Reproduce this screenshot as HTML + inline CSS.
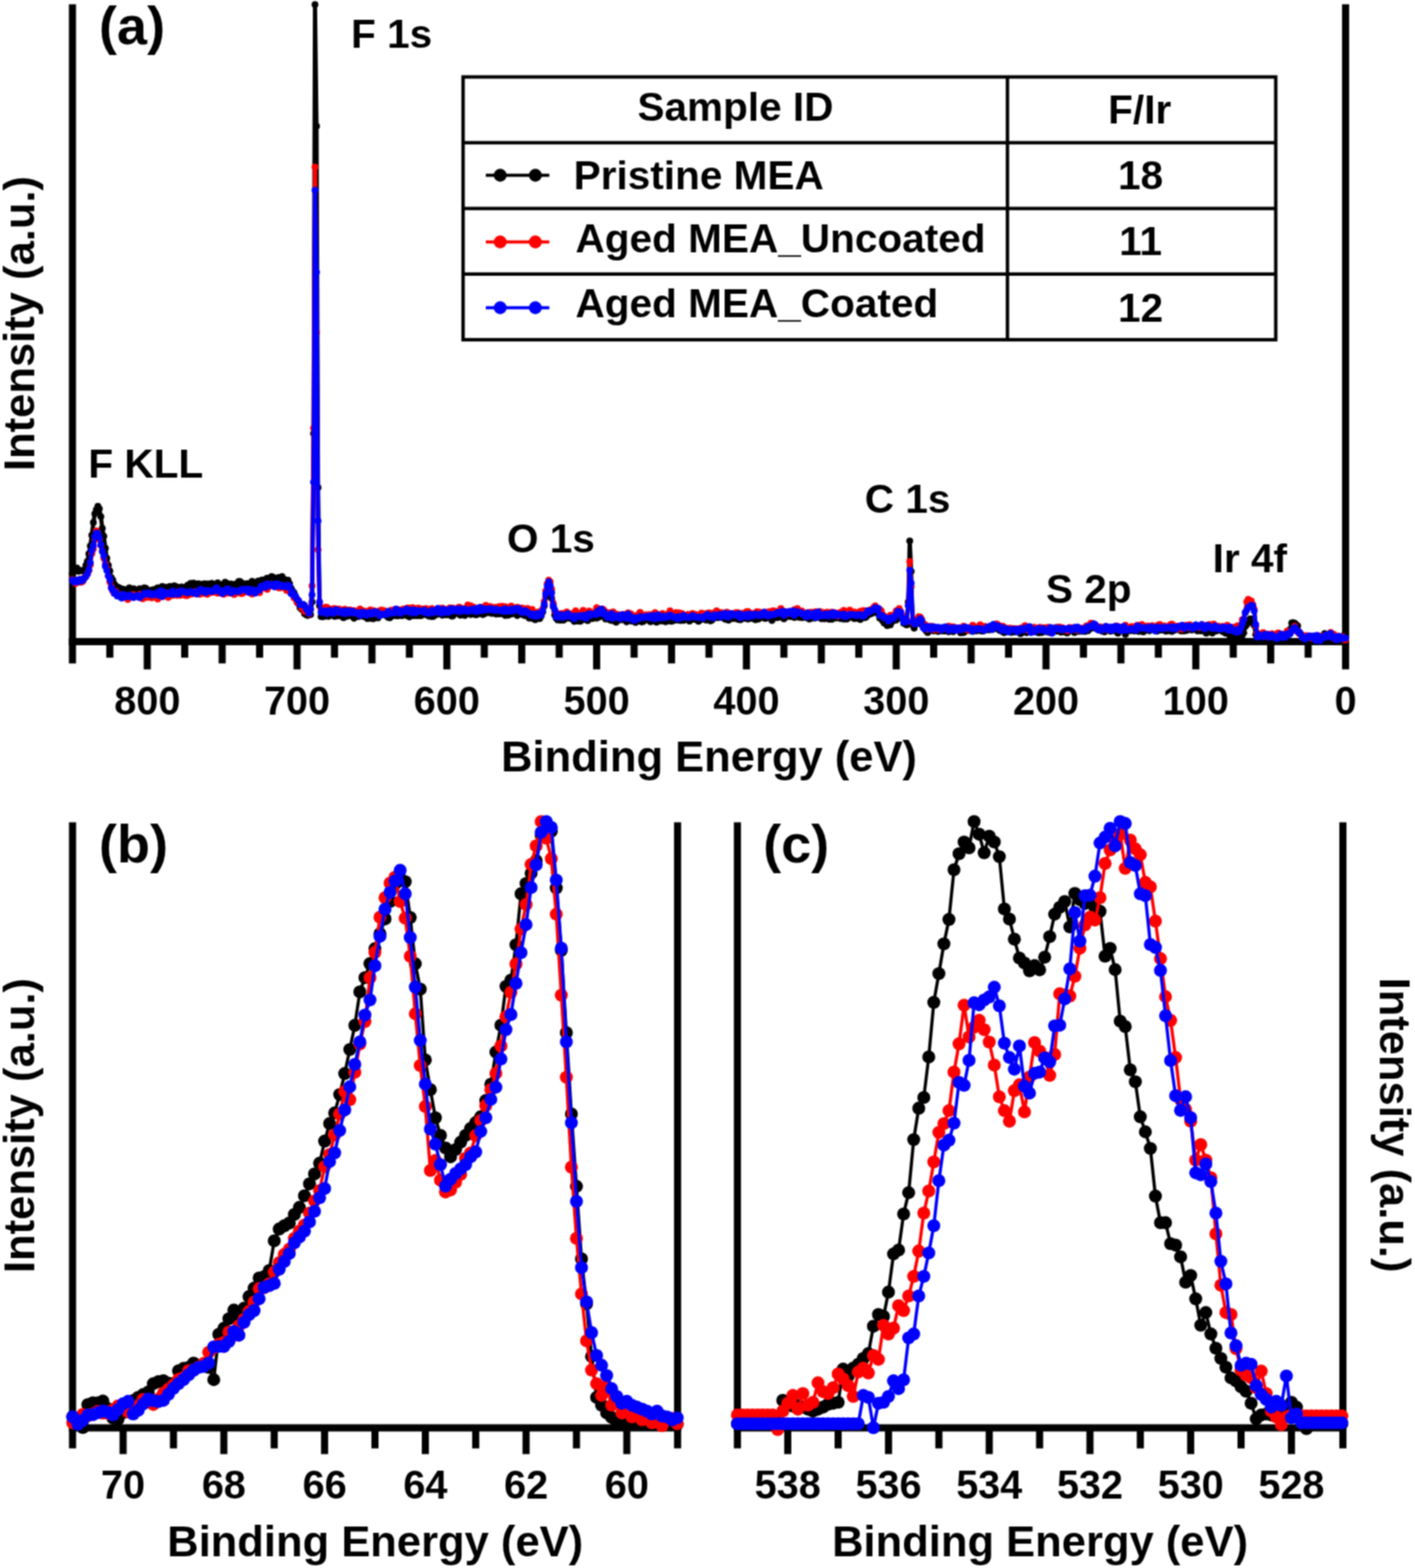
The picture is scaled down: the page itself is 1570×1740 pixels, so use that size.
<!DOCTYPE html>
<html lang="en">
<head>
<meta charset="utf-8">
<title>XPS spectra</title>
<style>html,body{margin:0;padding:0;background:#fff;}body{width:1570px;height:1740px;overflow:hidden;}svg{display:block;}</style>
</head>
<body>
<svg width="1570" height="1740" viewBox="0 0 1570 1740" font-family='"Liberation Sans", sans-serif' font-weight="bold" fill="#000">
<defs><filter id="soft" x="0" y="0" width="1570" height="1740" filterUnits="userSpaceOnUse" color-interpolation-filters="sRGB"><feConvolveMatrix order="3" kernelMatrix="1 2 1 2 4 2 1 2 1" divisor="16" edgeMode="duplicate" preserveAlpha="true"/></filter></defs>
<g filter="url(#soft)">
<rect width="1570" height="1740" fill="#fff"/>
<g id="axes" stroke-linecap="butt">
<line x1="80.40" y1="4.80" x2="80.40" y2="736.20" stroke="#000" stroke-width="7.9"/>
<line x1="1493.00" y1="4.80" x2="1493.00" y2="742.80" stroke="#000" stroke-width="7.9"/>
<line x1="76.45" y1="712.00" x2="1496.95" y2="712.00" stroke="#000" stroke-width="7.9"/>
<line x1="1451.45" y1="712.00" x2="1451.45" y2="729.80" stroke="#000" stroke-width="7.9"/>
<line x1="1409.90" y1="712.00" x2="1409.90" y2="736.20" stroke="#000" stroke-width="7.9"/>
<line x1="1368.35" y1="712.00" x2="1368.35" y2="729.80" stroke="#000" stroke-width="7.9"/>
<line x1="1326.80" y1="712.00" x2="1326.80" y2="742.80" stroke="#000" stroke-width="7.9"/>
<line x1="1285.25" y1="712.00" x2="1285.25" y2="729.80" stroke="#000" stroke-width="7.9"/>
<line x1="1243.70" y1="712.00" x2="1243.70" y2="736.20" stroke="#000" stroke-width="7.9"/>
<line x1="1202.15" y1="712.00" x2="1202.15" y2="729.80" stroke="#000" stroke-width="7.9"/>
<line x1="1160.60" y1="712.00" x2="1160.60" y2="742.80" stroke="#000" stroke-width="7.9"/>
<line x1="1119.05" y1="712.00" x2="1119.05" y2="729.80" stroke="#000" stroke-width="7.9"/>
<line x1="1077.50" y1="712.00" x2="1077.50" y2="736.20" stroke="#000" stroke-width="7.9"/>
<line x1="1035.95" y1="712.00" x2="1035.95" y2="729.80" stroke="#000" stroke-width="7.9"/>
<line x1="994.40" y1="712.00" x2="994.40" y2="742.80" stroke="#000" stroke-width="7.9"/>
<line x1="952.85" y1="712.00" x2="952.85" y2="729.80" stroke="#000" stroke-width="7.9"/>
<line x1="911.30" y1="712.00" x2="911.30" y2="736.20" stroke="#000" stroke-width="7.9"/>
<line x1="869.75" y1="712.00" x2="869.75" y2="729.80" stroke="#000" stroke-width="7.9"/>
<line x1="828.20" y1="712.00" x2="828.20" y2="742.80" stroke="#000" stroke-width="7.9"/>
<line x1="786.65" y1="712.00" x2="786.65" y2="729.80" stroke="#000" stroke-width="7.9"/>
<line x1="745.10" y1="712.00" x2="745.10" y2="736.20" stroke="#000" stroke-width="7.9"/>
<line x1="703.55" y1="712.00" x2="703.55" y2="729.80" stroke="#000" stroke-width="7.9"/>
<line x1="662.00" y1="712.00" x2="662.00" y2="742.80" stroke="#000" stroke-width="7.9"/>
<line x1="620.45" y1="712.00" x2="620.45" y2="729.80" stroke="#000" stroke-width="7.9"/>
<line x1="578.90" y1="712.00" x2="578.90" y2="736.20" stroke="#000" stroke-width="7.9"/>
<line x1="537.35" y1="712.00" x2="537.35" y2="729.80" stroke="#000" stroke-width="7.9"/>
<line x1="495.80" y1="712.00" x2="495.80" y2="742.80" stroke="#000" stroke-width="7.9"/>
<line x1="454.25" y1="712.00" x2="454.25" y2="729.80" stroke="#000" stroke-width="7.9"/>
<line x1="412.70" y1="712.00" x2="412.70" y2="736.20" stroke="#000" stroke-width="7.9"/>
<line x1="371.15" y1="712.00" x2="371.15" y2="729.80" stroke="#000" stroke-width="7.9"/>
<line x1="329.60" y1="712.00" x2="329.60" y2="742.80" stroke="#000" stroke-width="7.9"/>
<line x1="288.05" y1="712.00" x2="288.05" y2="729.80" stroke="#000" stroke-width="7.9"/>
<line x1="246.50" y1="712.00" x2="246.50" y2="736.20" stroke="#000" stroke-width="7.9"/>
<line x1="204.95" y1="712.00" x2="204.95" y2="729.80" stroke="#000" stroke-width="7.9"/>
<line x1="163.40" y1="712.00" x2="163.40" y2="742.80" stroke="#000" stroke-width="7.9"/>
<line x1="121.85" y1="712.00" x2="121.85" y2="729.80" stroke="#000" stroke-width="7.9"/>
<line x1="80.50" y1="912.50" x2="80.50" y2="1607.30" stroke="#000" stroke-width="7.9"/>
<line x1="751.80" y1="912.50" x2="751.80" y2="1607.30" stroke="#000" stroke-width="7.9"/>
<line x1="76.55" y1="1584.50" x2="755.75" y2="1584.50" stroke="#000" stroke-width="7.9"/>
<line x1="695.49" y1="1584.50" x2="695.49" y2="1613.60" stroke="#000" stroke-width="7.9"/>
<line x1="639.60" y1="1584.50" x2="639.60" y2="1607.30" stroke="#000" stroke-width="7.9"/>
<line x1="583.71" y1="1584.50" x2="583.71" y2="1613.60" stroke="#000" stroke-width="7.9"/>
<line x1="527.82" y1="1584.50" x2="527.82" y2="1607.30" stroke="#000" stroke-width="7.9"/>
<line x1="471.93" y1="1584.50" x2="471.93" y2="1613.60" stroke="#000" stroke-width="7.9"/>
<line x1="416.04" y1="1584.50" x2="416.04" y2="1607.30" stroke="#000" stroke-width="7.9"/>
<line x1="360.15" y1="1584.50" x2="360.15" y2="1613.60" stroke="#000" stroke-width="7.9"/>
<line x1="304.26" y1="1584.50" x2="304.26" y2="1607.30" stroke="#000" stroke-width="7.9"/>
<line x1="248.37" y1="1584.50" x2="248.37" y2="1613.60" stroke="#000" stroke-width="7.9"/>
<line x1="192.48" y1="1584.50" x2="192.48" y2="1607.30" stroke="#000" stroke-width="7.9"/>
<line x1="136.59" y1="1584.50" x2="136.59" y2="1613.60" stroke="#000" stroke-width="7.9"/>
<line x1="818.20" y1="912.50" x2="818.20" y2="1607.30" stroke="#000" stroke-width="7.9"/>
<line x1="1490.00" y1="912.50" x2="1490.00" y2="1607.30" stroke="#000" stroke-width="7.9"/>
<line x1="814.25" y1="1584.50" x2="1493.95" y2="1584.50" stroke="#000" stroke-width="7.9"/>
<line x1="1432.88" y1="1584.50" x2="1432.88" y2="1613.60" stroke="#000" stroke-width="7.9"/>
<line x1="1377.00" y1="1584.50" x2="1377.00" y2="1607.30" stroke="#000" stroke-width="7.9"/>
<line x1="1321.12" y1="1584.50" x2="1321.12" y2="1613.60" stroke="#000" stroke-width="7.9"/>
<line x1="1265.24" y1="1584.50" x2="1265.24" y2="1607.30" stroke="#000" stroke-width="7.9"/>
<line x1="1209.36" y1="1584.50" x2="1209.36" y2="1613.60" stroke="#000" stroke-width="7.9"/>
<line x1="1153.48" y1="1584.50" x2="1153.48" y2="1607.30" stroke="#000" stroke-width="7.9"/>
<line x1="1097.60" y1="1584.50" x2="1097.60" y2="1613.60" stroke="#000" stroke-width="7.9"/>
<line x1="1041.72" y1="1584.50" x2="1041.72" y2="1607.30" stroke="#000" stroke-width="7.9"/>
<line x1="985.84" y1="1584.50" x2="985.84" y2="1613.60" stroke="#000" stroke-width="7.9"/>
<line x1="929.96" y1="1584.50" x2="929.96" y2="1607.30" stroke="#000" stroke-width="7.9"/>
<line x1="874.08" y1="1584.50" x2="874.08" y2="1613.60" stroke="#000" stroke-width="7.9"/>
</g>
<defs>
<marker id="mLk" markerUnits="userSpaceOnUse" markerWidth="16.4" markerHeight="16.4" refX="8.2" refY="8.2" overflow="visible"><circle cx="8.2" cy="8.2" r="7.2" fill="#000000"/></marker>
<marker id="mSk" markerUnits="userSpaceOnUse" markerWidth="9.6" markerHeight="9.6" refX="4.8" refY="4.8" overflow="visible"><circle cx="4.8" cy="4.8" r="3.8" fill="#000000"/></marker>
<marker id="mLr" markerUnits="userSpaceOnUse" markerWidth="16.4" markerHeight="16.4" refX="8.2" refY="8.2" overflow="visible"><circle cx="8.2" cy="8.2" r="7.2" fill="#ff0000"/></marker>
<marker id="mSr" markerUnits="userSpaceOnUse" markerWidth="9.6" markerHeight="9.6" refX="4.8" refY="4.8" overflow="visible"><circle cx="4.8" cy="4.8" r="3.8" fill="#ff0000"/></marker>
<marker id="mLb" markerUnits="userSpaceOnUse" markerWidth="16.4" markerHeight="16.4" refX="8.2" refY="8.2" overflow="visible"><circle cx="8.2" cy="8.2" r="7.2" fill="#0000ff"/></marker>
<marker id="mSb" markerUnits="userSpaceOnUse" markerWidth="9.6" markerHeight="9.6" refX="4.8" refY="4.8" overflow="visible"><circle cx="4.8" cy="4.8" r="3.8" fill="#0000ff"/></marker>
</defs>
<g id="panel-a-data">
<polyline points="80.3,636.4 82.0,633.6 83.6,633.3 85.3,630.3 86.9,634.0 88.6,633.6 90.3,633.1 91.9,633.5 93.6,632.8 95.3,627.2 96.9,623.0 98.6,614.5 100.2,605.8 101.9,593.9 103.6,579.8 105.2,570.1 106.9,565.5 108.6,561.7 110.2,564.5 111.9,573.3 113.5,586.2 115.2,595.0 116.9,608.4 118.5,619.6 120.2,627.2 121.9,633.5 123.5,641.1 125.2,643.7 126.8,648.1 128.5,650.4 130.2,651.7 131.8,652.1 133.5,653.3 135.1,653.5 136.8,654.3 138.5,654.3 140.1,654.8 141.8,656.4 143.5,652.4 145.1,656.5 146.8,654.5 148.4,653.2 150.1,654.8 151.8,655.2 153.4,656.4 155.1,653.4 156.8,655.1 158.4,654.9 160.1,652.3 161.7,652.9 163.4,655.3 165.1,655.4 166.7,655.8 168.4,654.9 170.0,654.5 171.7,654.0 173.4,655.3 175.0,652.3 176.7,653.1 178.4,653.7 180.0,650.8 181.7,654.6 183.3,651.5 185.0,652.3 186.7,655.3 188.3,650.9 190.0,651.2 191.7,653.9 193.3,650.1 195.0,650.8 196.6,652.0 198.3,651.8 200.0,651.8 201.6,651.3 203.3,652.5 205.0,651.9 206.6,651.2 208.3,649.2 209.9,649.0 211.6,647.2 213.3,650.7 214.9,647.1 216.6,650.8 218.2,652.0 219.9,647.8 221.6,648.3 223.2,648.5 224.9,650.2 226.6,647.7 228.2,648.6 229.9,648.0 231.5,648.2 233.2,650.4 234.9,647.2 236.5,648.6 238.2,648.9 239.9,649.7 241.5,646.7 243.2,650.0 244.8,649.0 246.5,649.6 248.2,648.4 249.8,646.0 251.5,647.4 253.1,649.4 254.8,648.3 256.5,648.1 258.1,650.7 259.8,651.2 261.5,648.1 263.1,650.8 264.8,645.3 266.4,645.2 268.1,649.2 269.8,647.6 271.4,648.7 273.1,648.5 274.8,647.5 276.4,648.5 278.1,647.6 279.7,645.1 281.4,647.4 283.1,647.3 284.7,649.4 286.4,644.8 288.0,645.5 289.7,644.0 291.4,643.6 293.0,645.2 294.7,643.1 296.4,641.5 298.0,642.1 299.7,642.6 301.3,639.8 303.0,640.6 304.7,643.3 306.3,642.5 308.0,641.4 309.7,640.9 311.3,641.6 313.0,639.9 314.6,643.8 316.3,643.4 318.0,644.5 319.6,643.9 321.3,647.7 323.0,652.7 324.6,655.7 326.3,657.9 327.9,663.5 329.6,668.2 331.3,670.0 332.9,674.3 334.6,675.9 336.2,677.0 337.9,681.0 339.6,681.9 341.2,682.9 342.9,681.9 344.6,682.0 346.2,668.0 347.9,481.0 349.5,5.1 351.2,140.0 352.9,541.0 354.5,672.0 356.2,684.3 357.9,684.5 359.5,682.5 361.2,683.7 362.8,682.0 364.5,683.9 366.2,682.2 367.8,682.1 369.5,682.0 371.2,683.9 372.8,683.4 374.5,683.4 376.1,681.6 377.8,683.5 379.5,681.3 381.1,685.5 382.8,683.3 384.4,683.9 386.1,683.5 387.8,681.6 389.4,681.9 391.1,683.9 392.8,686.1 394.4,682.5 396.1,683.2 397.7,684.2 399.4,681.9 401.1,681.9 402.7,683.7 404.4,684.2 406.1,683.7 407.7,686.4 409.4,684.0 411.0,684.8 412.7,686.5 414.4,686.6 416.0,682.0 417.7,683.7 419.3,685.7 421.0,682.1 422.7,682.6 424.3,682.0 426.0,681.9 427.7,682.1 429.3,683.8 431.0,685.3 432.6,685.6 434.3,683.4 436.0,680.5 437.6,683.1 439.3,682.6 441.0,683.5 442.6,682.8 444.3,680.3 445.9,683.3 447.6,679.8 449.3,681.6 450.9,683.0 452.6,682.9 454.2,684.6 455.9,679.0 457.6,682.8 459.2,683.3 460.9,681.9 462.6,683.2 464.2,680.8 465.9,683.3 467.5,683.1 469.2,681.0 470.9,681.4 472.5,682.1 474.2,681.4 475.9,683.8 477.5,682.6 479.2,684.2 480.8,684.0 482.5,682.4 484.2,682.1 485.8,681.0 487.5,681.2 489.2,681.2 490.8,682.8 492.5,681.1 494.1,682.3 495.8,682.3 497.5,681.2 499.1,681.4 500.8,683.6 502.4,683.6 504.1,680.1 505.8,680.8 507.4,680.4 509.1,680.3 510.8,682.7 512.4,681.4 514.1,682.2 515.7,682.9 517.4,679.8 519.1,680.2 520.7,680.5 522.4,681.9 524.1,680.3 525.7,681.3 527.4,682.1 529.0,682.1 530.7,681.0 532.4,679.3 534.0,678.2 535.7,682.0 537.4,681.1 539.0,679.1 540.7,679.7 542.3,679.8 544.0,678.1 545.7,680.8 547.3,679.3 549.0,680.0 550.6,681.5 552.3,680.3 554.0,681.2 555.6,681.0 557.3,680.5 559.0,680.5 560.6,683.0 562.3,680.2 563.9,682.7 565.6,679.1 567.3,681.4 568.9,680.7 570.6,679.5 572.3,677.0 573.9,683.1 575.6,679.4 577.2,679.9 578.9,681.6 580.6,682.1 582.2,683.1 583.9,683.0 585.5,682.0 587.2,685.9 588.9,684.0 590.5,685.9 592.2,686.6 593.9,687.7 595.5,686.0 597.2,686.2 598.8,686.5 600.5,683.6 602.2,679.0 603.8,672.5 605.5,662.2 607.2,655.7 608.8,648.9 610.5,656.0 612.1,664.0 613.8,673.1 615.5,682.4 617.1,686.0 618.8,688.0 620.5,687.3 622.1,688.3 623.8,687.5 625.4,688.1 627.1,686.6 628.8,683.6 630.4,685.5 632.1,686.0 633.7,686.5 635.4,685.9 637.1,689.6 638.7,687.1 640.4,689.1 642.1,686.7 643.7,689.4 645.4,685.2 647.0,687.6 648.7,684.8 650.4,687.2 652.0,688.7 653.7,684.0 655.4,685.0 657.0,686.4 658.7,685.5 660.3,683.1 662.0,685.9 663.7,683.6 665.3,684.6 667.0,682.7 668.6,681.5 670.3,683.4 672.0,686.9 673.6,684.0 675.3,686.2 677.0,687.9 678.6,688.6 680.3,688.4 681.9,685.3 683.6,690.4 685.3,687.4 686.9,687.7 688.6,687.8 690.3,687.6 691.9,686.7 693.6,687.7 695.2,690.1 696.9,686.5 698.6,685.0 700.2,689.1 701.9,688.8 703.6,689.4 705.2,690.8 706.9,687.3 708.5,688.6 710.2,689.0 711.9,690.1 713.5,689.8 715.2,687.2 716.8,686.4 718.5,687.9 720.2,686.1 721.8,689.9 723.5,687.8 725.2,687.8 726.8,687.1 728.5,690.4 730.1,688.7 731.8,687.7 733.5,689.1 735.1,688.1 736.8,689.0 738.5,690.0 740.1,687.7 741.8,688.8 743.4,688.7 745.1,689.5 746.8,688.7 748.4,687.9 750.1,686.9 751.7,688.1 753.4,686.2 755.1,688.6 756.7,687.7 758.4,688.4 760.1,686.9 761.7,686.5 763.4,686.4 765.0,689.2 766.7,687.3 768.4,687.3 770.0,685.1 771.7,687.5 773.4,682.7 775.0,689.4 776.7,687.1 778.3,687.5 780.0,685.4 781.7,685.8 783.3,688.1 785.0,686.9 786.6,687.8 788.3,688.9 790.0,688.0 791.6,684.3 793.3,685.6 795.0,685.3 796.6,685.5 798.3,683.8 799.9,683.8 801.6,685.5 803.3,685.7 804.9,687.2 806.6,685.9 808.3,688.3 809.9,683.7 811.6,684.2 813.2,686.5 814.9,685.7 816.6,684.6 818.2,687.0 819.9,687.4 821.6,687.7 823.2,685.2 824.9,685.7 826.5,686.0 828.2,685.7 829.9,687.0 831.5,684.9 833.2,686.1 834.8,682.5 836.5,686.6 838.2,687.8 839.8,685.5 841.5,687.0 843.2,683.2 844.8,685.1 846.5,683.4 848.1,686.0 849.8,686.3 851.5,683.5 853.1,684.2 854.8,684.5 856.5,688.6 858.1,685.0 859.8,685.2 861.4,685.5 863.1,685.3 864.8,684.4 866.4,682.8 868.1,683.7 869.8,686.8 871.4,684.8 873.1,683.8 874.7,682.4 876.4,684.1 878.1,684.2 879.7,683.1 881.4,685.2 883.0,683.0 884.7,683.5 886.4,684.9 888.0,684.0 889.7,685.5 891.4,683.9 893.0,683.9 894.7,685.4 896.3,685.3 898.0,686.9 899.7,686.1 901.3,685.3 903.0,685.8 904.7,685.8 906.3,683.1 908.0,684.5 909.6,684.4 911.3,686.6 913.0,684.4 914.6,686.7 916.3,683.6 917.9,685.4 919.6,687.1 921.3,685.2 922.9,687.2 924.6,682.7 926.3,685.6 927.9,685.8 929.6,685.4 931.2,683.4 932.9,686.5 934.6,682.3 936.2,686.9 937.9,686.0 939.6,686.9 941.2,685.2 942.9,684.0 944.5,684.8 946.2,684.9 947.9,686.4 949.5,685.1 951.2,686.1 952.9,686.2 954.5,687.5 956.2,682.8 957.8,684.7 959.5,685.4 961.2,684.6 962.8,682.1 964.5,681.7 966.1,681.1 967.8,680.5 969.5,678.6 971.1,677.6 972.8,678.1 974.5,681.3 976.1,686.0 977.8,684.9 979.4,689.0 981.1,691.5 982.8,690.1 984.4,694.2 986.1,691.7 987.8,693.4 989.4,690.2 991.1,687.8 992.7,688.2 994.4,687.9 996.1,681.8 997.7,681.6 999.4,683.0 1001.0,686.5 1002.7,691.8 1004.4,692.1 1006.0,693.4 1007.7,668.0 1009.4,600.2 1011.0,634.0 1012.7,693.7 1014.3,697.1 1016.0,692.3 1017.7,690.6 1019.3,690.9 1021.0,692.3 1022.7,689.9 1024.3,694.3 1026.0,697.9 1027.6,699.9 1029.3,702.0 1031.0,697.4 1032.6,696.9 1034.3,699.6 1036.0,700.1 1037.6,696.2 1039.3,698.5 1040.9,700.7 1042.6,698.6 1044.3,700.0 1045.9,699.6 1047.6,700.3 1049.2,700.0 1050.9,699.7 1052.6,701.1 1054.2,698.6 1055.9,699.5 1057.6,701.0 1059.2,698.6 1060.9,698.9 1062.5,698.3 1064.2,698.1 1065.9,702.2 1067.5,700.0 1069.2,702.0 1070.9,700.4 1072.5,699.5 1074.2,699.0 1075.8,699.8 1077.5,699.3 1079.2,700.7 1080.8,698.2 1082.5,699.6 1084.1,700.0 1085.8,699.1 1087.5,699.1 1089.1,700.2 1090.8,700.2 1092.5,699.0 1094.1,698.8 1095.8,697.7 1097.4,698.9 1099.1,697.6 1100.8,695.3 1102.4,696.7 1104.1,697.6 1105.8,697.1 1107.4,696.3 1109.1,699.4 1110.7,700.1 1112.4,700.8 1114.1,702.1 1115.7,699.5 1117.4,700.9 1119.0,699.7 1120.7,701.5 1122.4,701.8 1124.0,700.9 1125.7,701.3 1127.4,699.1 1129.0,701.2 1130.7,698.6 1132.3,703.3 1134.0,701.9 1135.7,698.1 1137.3,696.5 1139.0,702.1 1140.7,699.1 1142.3,701.0 1144.0,698.4 1145.6,700.3 1147.3,699.3 1149.0,701.1 1150.6,699.8 1152.3,702.3 1154.0,699.2 1155.6,702.0 1157.3,700.2 1158.9,701.0 1160.6,698.0 1162.3,697.8 1163.9,701.7 1165.6,698.5 1167.2,699.8 1168.9,699.8 1170.6,699.0 1172.2,700.5 1173.9,698.3 1175.6,698.6 1177.2,701.6 1178.9,699.2 1180.5,701.3 1182.2,701.2 1183.9,702.4 1185.5,700.9 1187.2,697.7 1188.9,699.3 1190.5,699.6 1192.2,701.9 1193.8,700.6 1195.5,699.4 1197.2,700.6 1198.8,699.5 1200.5,700.6 1202.2,699.8 1203.8,700.8 1205.5,699.4 1207.1,700.0 1208.8,697.5 1210.5,697.2 1212.1,694.7 1213.8,696.5 1215.4,697.1 1217.1,697.8 1218.8,698.6 1220.4,699.1 1222.1,700.1 1223.8,696.3 1225.4,701.2 1227.1,696.2 1228.7,699.2 1230.4,699.0 1232.1,700.5 1233.7,699.8 1235.4,699.5 1237.1,699.6 1238.7,700.8 1240.4,702.7 1242.0,700.0 1243.7,696.5 1245.4,698.7 1247.0,699.9 1248.7,703.9 1250.3,698.1 1252.0,698.6 1253.7,699.9 1255.3,699.5 1257.0,697.2 1258.7,700.3 1260.3,697.1 1262.0,698.6 1263.6,700.8 1265.3,697.0 1267.0,698.4 1268.6,701.2 1270.3,698.4 1272.0,697.3 1273.6,697.9 1275.3,699.9 1276.9,696.5 1278.6,697.8 1280.3,696.7 1281.9,697.1 1283.6,700.5 1285.2,698.6 1286.9,698.1 1288.6,699.3 1290.2,697.8 1291.9,697.1 1293.6,700.4 1295.2,700.0 1296.9,697.6 1298.5,699.7 1300.2,700.7 1301.9,699.4 1303.5,699.3 1305.2,696.9 1306.9,698.4 1308.5,695.9 1310.2,700.1 1311.8,698.3 1313.5,700.3 1315.2,697.4 1316.8,699.6 1318.5,696.1 1320.2,697.7 1321.8,699.0 1323.5,698.7 1325.1,698.1 1326.8,695.8 1328.5,700.1 1330.1,699.2 1331.8,699.9 1333.4,699.9 1335.1,698.0 1336.8,699.4 1338.4,702.8 1340.1,698.2 1341.8,700.2 1343.4,699.1 1345.1,702.6 1346.7,700.7 1348.4,699.2 1350.1,700.1 1351.7,699.2 1353.4,698.3 1355.1,697.9 1356.7,701.0 1358.4,700.7 1360.0,702.8 1361.7,701.7 1363.4,703.4 1365.0,705.9 1366.7,702.0 1368.3,702.2 1370.0,705.5 1371.7,707.7 1373.3,702.6 1375.0,702.8 1376.7,706.1 1378.3,705.1 1380.0,702.2 1381.6,695.3 1383.3,693.1 1385.0,689.3 1386.6,687.0 1388.3,686.7 1390.0,691.3 1391.6,694.1 1393.3,704.2 1394.9,711.0 1396.6,710.6 1398.3,709.7 1399.9,709.8 1401.6,709.2 1403.3,709.6 1404.9,709.6 1406.6,708.3 1408.2,705.2 1409.9,707.7 1411.6,706.5 1413.2,705.9 1414.9,708.2 1416.5,704.7 1418.2,708.2 1419.9,706.0 1421.5,705.0 1423.2,705.3 1424.9,709.7 1426.5,707.4 1428.2,701.8 1429.8,700.5 1431.5,698.4 1433.2,691.4 1434.8,691.0 1436.5,691.5 1438.2,693.2 1439.8,694.6 1441.5,701.2 1443.1,703.5 1444.8,707.4 1446.5,711.0 1448.1,708.6 1449.8,711.0 1451.5,708.4 1453.1,707.8 1454.8,708.2 1456.4,709.3 1458.1,709.1 1459.8,708.5 1461.4,705.7 1463.1,706.1 1464.7,707.1 1466.4,708.3 1468.1,709.1 1469.7,703.0 1471.4,705.7 1473.1,704.7 1474.7,704.6 1476.4,704.8 1478.0,704.2 1479.7,704.5 1481.4,708.8 1483.0,709.2 1484.7,707.5 1486.4,708.0 1488.0,707.1 1489.7,706.1 1491.3,709.1 1493.0,707.2" fill="none" stroke="#000000" stroke-width="4.6" stroke-linejoin="round" marker-start="url(#mSk)" marker-mid="url(#mSk)" marker-end="url(#mSk)"/>
<polyline points="80.3,643.0 82.0,644.0 83.6,647.6 85.3,646.2 86.9,645.7 88.6,645.3 90.3,646.1 91.9,644.9 93.6,640.9 95.3,640.1 96.9,636.7 98.6,633.3 100.2,626.8 101.9,614.3 103.6,609.1 105.2,599.1 106.9,589.0 108.6,595.8 110.2,597.7 111.9,605.3 113.5,611.7 115.2,619.4 116.9,625.9 118.5,630.8 120.2,638.7 121.9,645.8 123.5,651.1 125.2,656.1 126.8,658.2 128.5,656.0 130.2,661.1 131.8,659.7 133.5,659.8 135.1,661.8 136.8,660.4 138.5,662.9 140.1,661.2 141.8,665.3 143.5,662.3 145.1,661.9 146.8,661.9 148.4,659.8 150.1,661.7 151.8,661.9 153.4,662.4 155.1,659.6 156.8,662.7 158.4,664.4 160.1,661.9 161.7,662.4 163.4,663.0 165.1,661.1 166.7,661.6 168.4,663.4 170.0,662.1 171.7,660.0 173.4,659.0 175.0,664.7 176.7,661.9 178.4,658.8 180.0,661.1 181.7,661.7 183.3,660.8 185.0,657.8 186.7,662.9 188.3,661.0 190.0,659.7 191.7,660.8 193.3,659.4 195.0,659.1 196.6,660.7 198.3,656.5 200.0,660.6 201.6,659.6 203.3,660.0 205.0,660.1 206.6,660.9 208.3,660.6 209.9,659.7 211.6,657.7 213.3,659.1 214.9,657.4 216.6,656.6 218.2,658.6 219.9,658.3 221.6,659.4 223.2,654.6 224.9,658.4 226.6,658.5 228.2,657.6 229.9,659.5 231.5,656.0 233.2,657.7 234.9,656.7 236.5,657.2 238.2,655.9 239.9,657.1 241.5,658.2 243.2,657.4 244.8,657.7 246.5,656.2 248.2,659.5 249.8,656.3 251.5,657.3 253.1,658.1 254.8,657.0 256.5,658.3 258.1,657.5 259.8,659.7 261.5,658.0 263.1,657.8 264.8,656.1 266.4,657.9 268.1,658.7 269.8,657.9 271.4,655.9 273.1,656.3 274.8,656.6 276.4,656.9 278.1,654.8 279.7,659.3 281.4,656.4 283.1,656.6 284.7,655.7 286.4,655.8 288.0,657.7 289.7,652.8 291.4,652.6 293.0,651.0 294.7,651.4 296.4,654.0 298.0,650.6 299.7,650.5 301.3,648.3 303.0,650.1 304.7,651.1 306.3,650.2 308.0,650.5 309.7,652.4 311.3,652.2 313.0,651.5 314.6,651.0 316.3,650.4 318.0,655.3 319.6,651.2 321.3,656.3 323.0,657.4 324.6,658.9 326.3,663.5 327.9,663.4 329.6,668.3 331.3,667.1 332.9,671.4 334.6,674.5 336.2,672.9 337.9,678.4 339.6,677.9 341.2,674.8 342.9,681.1 344.6,676.0 346.2,650.0 347.9,475.0 349.5,185.3 351.2,369.0 352.9,610.0 354.5,668.0 356.2,675.4 357.9,677.9 359.5,679.5 361.2,673.7 362.8,674.0 364.5,675.6 366.2,677.6 367.8,677.3 369.5,675.6 371.2,675.4 372.8,676.0 374.5,679.5 376.1,675.9 377.8,676.5 379.5,678.7 381.1,677.1 382.8,676.1 384.4,679.6 386.1,678.2 387.8,676.8 389.4,677.3 391.1,679.3 392.8,677.5 394.4,678.5 396.1,679.5 397.7,679.7 399.4,675.7 401.1,677.6 402.7,677.8 404.4,678.4 406.1,679.4 407.7,679.9 409.4,677.7 411.0,676.7 412.7,678.6 414.4,677.5 416.0,680.7 417.7,678.8 419.3,678.2 421.0,679.5 422.7,677.1 424.3,677.4 426.0,677.6 427.7,678.7 429.3,679.5 431.0,678.7 432.6,678.6 434.3,677.1 436.0,677.9 437.6,676.9 439.3,678.8 441.0,676.2 442.6,676.9 444.3,677.3 445.9,678.0 447.6,675.7 449.3,676.4 450.9,675.4 452.6,674.6 454.2,678.0 455.9,677.1 457.6,674.3 459.2,675.0 460.9,677.2 462.6,675.6 464.2,674.9 465.9,678.2 467.5,675.7 469.2,675.9 470.9,677.2 472.5,675.4 474.2,676.4 475.9,676.6 477.5,677.4 479.2,675.4 480.8,677.9 482.5,676.9 484.2,678.9 485.8,676.7 487.5,675.6 489.2,675.6 490.8,674.8 492.5,676.4 494.1,676.2 495.8,677.3 497.5,676.0 499.1,674.6 500.8,677.0 502.4,674.8 504.1,675.6 505.8,677.1 507.4,676.7 509.1,673.7 510.8,674.4 512.4,676.3 514.1,675.8 515.7,675.2 517.4,675.7 519.1,671.4 520.7,674.0 522.4,672.4 524.1,673.5 525.7,673.9 527.4,675.1 529.0,676.1 530.7,675.5 532.4,674.8 534.0,673.9 535.7,676.2 537.4,674.8 539.0,671.9 540.7,674.3 542.3,675.1 544.0,673.0 545.7,674.7 547.3,676.5 549.0,674.0 550.6,674.3 552.3,674.3 554.0,673.0 555.6,673.7 557.3,672.9 559.0,673.9 560.6,673.2 562.3,675.7 563.9,674.2 565.6,675.5 567.3,672.5 568.9,674.3 570.6,675.3 572.3,675.6 573.9,673.9 575.6,674.8 577.2,675.3 578.9,674.8 580.6,675.4 582.2,677.4 583.9,675.6 585.5,675.4 587.2,677.9 588.9,679.6 590.5,676.2 592.2,681.6 593.9,680.1 595.5,681.1 597.2,679.1 598.8,680.2 600.5,681.9 602.2,675.6 603.8,667.5 605.5,655.8 607.2,647.5 608.8,643.7 610.5,645.7 612.1,653.8 613.8,669.2 615.5,677.5 617.1,679.9 618.8,681.7 620.5,681.5 622.1,681.2 623.8,680.8 625.4,682.3 627.1,681.8 628.8,679.0 630.4,683.4 632.1,681.8 633.7,681.7 635.4,680.7 637.1,680.9 638.7,677.8 640.4,680.9 642.1,682.0 643.7,681.9 645.4,679.9 647.0,677.4 648.7,679.1 650.4,680.1 652.0,682.2 653.7,678.0 655.4,680.2 657.0,680.9 658.7,680.7 660.3,678.9 662.0,674.4 663.7,678.4 665.3,677.0 667.0,677.0 668.6,675.9 670.3,677.4 672.0,681.2 673.6,679.8 675.3,680.9 677.0,680.1 678.6,683.0 680.3,679.0 681.9,680.7 683.6,682.2 685.3,681.7 686.9,683.1 688.6,682.6 690.3,684.1 691.9,681.9 693.6,682.1 695.2,682.9 696.9,680.0 698.6,684.6 700.2,681.3 701.9,684.2 703.6,684.6 705.2,684.0 706.9,682.9 708.5,681.7 710.2,679.6 711.9,683.4 713.5,682.3 715.2,685.0 716.8,682.2 718.5,683.5 720.2,682.0 721.8,683.2 723.5,682.1 725.2,682.4 726.8,679.9 728.5,681.6 730.1,682.4 731.8,684.4 733.5,683.0 735.1,680.8 736.8,684.8 738.5,683.0 740.1,684.0 741.8,681.1 743.4,677.7 745.1,681.2 746.8,680.8 748.4,682.6 750.1,679.9 751.7,680.8 753.4,680.1 755.1,682.2 756.7,680.7 758.4,684.0 760.1,683.2 761.7,683.2 763.4,681.7 765.0,682.4 766.7,683.3 768.4,680.8 770.0,683.8 771.7,681.9 773.4,683.8 775.0,685.2 776.7,684.2 778.3,680.4 780.0,683.6 781.7,681.3 783.3,681.1 785.0,681.4 786.6,680.0 788.3,681.9 790.0,680.5 791.6,683.1 793.3,681.9 795.0,677.7 796.6,679.9 798.3,679.8 799.9,680.2 801.6,680.1 803.3,681.3 804.9,680.7 806.6,679.3 808.3,681.4 809.9,682.0 811.6,680.7 813.2,682.3 814.9,681.2 816.6,679.8 818.2,679.9 819.9,680.5 821.6,681.2 823.2,680.6 824.9,681.7 826.5,681.9 828.2,678.8 829.9,678.5 831.5,680.0 833.2,680.8 834.8,681.4 836.5,681.1 838.2,681.0 839.8,678.8 841.5,680.7 843.2,679.2 844.8,680.7 846.5,681.4 848.1,679.2 849.8,679.8 851.5,683.5 853.1,678.9 854.8,679.2 856.5,678.2 858.1,677.7 859.8,681.0 861.4,678.6 863.1,678.6 864.8,678.2 866.4,675.3 868.1,680.3 869.8,678.3 871.4,679.0 873.1,680.9 874.7,678.7 876.4,679.0 878.1,678.9 879.7,680.4 881.4,676.6 883.0,677.7 884.7,675.3 886.4,678.3 888.0,679.2 889.7,678.0 891.4,681.7 893.0,680.5 894.7,682.1 896.3,679.8 898.0,682.4 899.7,679.4 901.3,680.6 903.0,679.9 904.7,678.9 906.3,681.6 908.0,681.2 909.6,678.5 911.3,680.6 913.0,679.9 914.6,680.1 916.3,680.9 917.9,679.4 919.6,680.5 921.3,680.7 922.9,679.4 924.6,679.5 926.3,681.5 927.9,680.3 929.6,683.6 931.2,683.3 932.9,679.2 934.6,680.7 936.2,677.4 937.9,679.3 939.6,678.9 941.2,679.1 942.9,677.1 944.5,680.5 946.2,680.4 947.9,679.0 949.5,680.0 951.2,681.5 952.9,682.4 954.5,678.3 956.2,682.4 957.8,677.5 959.5,677.9 961.2,677.7 962.8,679.6 964.5,677.4 966.1,676.5 967.8,676.9 969.5,674.1 971.1,672.2 972.8,676.0 974.5,675.8 976.1,676.4 977.8,677.9 979.4,682.0 981.1,685.5 982.8,684.9 984.4,685.0 986.1,687.5 987.8,682.9 989.4,684.8 991.1,682.6 992.7,683.4 994.4,677.8 996.1,677.7 997.7,675.4 999.4,678.8 1001.0,683.4 1002.7,685.9 1004.4,689.5 1006.0,687.6 1007.7,671.0 1009.4,623.1 1011.0,651.0 1012.7,690.5 1014.3,692.2 1016.0,690.3 1017.7,687.0 1019.3,684.2 1021.0,684.8 1022.7,687.2 1024.3,692.5 1026.0,692.9 1027.6,694.7 1029.3,698.2 1031.0,695.2 1032.6,695.3 1034.3,695.1 1036.0,698.7 1037.6,697.5 1039.3,697.7 1040.9,698.8 1042.6,697.8 1044.3,698.3 1045.9,697.0 1047.6,697.7 1049.2,697.3 1050.9,697.4 1052.6,694.8 1054.2,696.1 1055.9,695.9 1057.6,695.5 1059.2,696.4 1060.9,699.0 1062.5,697.8 1064.2,696.6 1065.9,696.9 1067.5,698.4 1069.2,694.7 1070.9,697.0 1072.5,698.8 1074.2,699.0 1075.8,697.7 1077.5,697.2 1079.2,693.9 1080.8,695.4 1082.5,696.4 1084.1,696.9 1085.8,697.0 1087.5,693.2 1089.1,695.7 1090.8,696.8 1092.5,695.1 1094.1,695.5 1095.8,696.2 1097.4,695.6 1099.1,695.0 1100.8,695.5 1102.4,695.7 1104.1,693.4 1105.8,692.2 1107.4,693.6 1109.1,694.7 1110.7,696.2 1112.4,694.9 1114.1,696.0 1115.7,696.7 1117.4,699.0 1119.0,697.9 1120.7,697.0 1122.4,698.5 1124.0,697.5 1125.7,697.6 1127.4,698.8 1129.0,697.8 1130.7,697.6 1132.3,698.4 1134.0,696.6 1135.7,697.4 1137.3,694.4 1139.0,696.8 1140.7,699.5 1142.3,696.9 1144.0,697.4 1145.6,696.8 1147.3,696.0 1149.0,698.1 1150.6,697.4 1152.3,698.9 1154.0,696.1 1155.6,697.4 1157.3,696.9 1158.9,696.6 1160.6,698.9 1162.3,696.4 1163.9,696.4 1165.6,700.9 1167.2,697.3 1168.9,697.1 1170.6,698.0 1172.2,696.0 1173.9,697.9 1175.6,695.7 1177.2,696.7 1178.9,696.6 1180.5,699.3 1182.2,698.3 1183.9,700.0 1185.5,699.8 1187.2,696.4 1188.9,698.1 1190.5,696.7 1192.2,696.4 1193.8,698.9 1195.5,699.2 1197.2,697.3 1198.8,697.5 1200.5,697.3 1202.2,697.0 1203.8,696.8 1205.5,694.5 1207.1,696.5 1208.8,693.6 1210.5,691.6 1212.1,691.7 1213.8,693.0 1215.4,695.0 1217.1,695.6 1218.8,696.6 1220.4,695.5 1222.1,697.0 1223.8,696.7 1225.4,696.9 1227.1,695.4 1228.7,698.8 1230.4,697.5 1232.1,697.4 1233.7,696.6 1235.4,696.0 1237.1,697.7 1238.7,694.6 1240.4,695.7 1242.0,695.9 1243.7,697.1 1245.4,695.8 1247.0,698.2 1248.7,693.7 1250.3,698.3 1252.0,696.5 1253.7,697.3 1255.3,695.2 1257.0,697.3 1258.7,695.4 1260.3,696.2 1262.0,693.7 1263.6,696.5 1265.3,695.9 1267.0,693.0 1268.6,695.5 1270.3,695.2 1272.0,696.7 1273.6,694.6 1275.3,695.8 1276.9,697.3 1278.6,694.2 1280.3,698.1 1281.9,695.8 1283.6,695.2 1285.2,693.6 1286.9,693.0 1288.6,696.8 1290.2,694.8 1291.9,694.6 1293.6,697.0 1295.2,696.4 1296.9,695.6 1298.5,693.3 1300.2,692.6 1301.9,696.7 1303.5,695.3 1305.2,694.9 1306.9,697.9 1308.5,694.6 1310.2,695.7 1311.8,698.2 1313.5,696.0 1315.2,694.3 1316.8,693.8 1318.5,696.7 1320.2,693.2 1321.8,696.1 1323.5,697.1 1325.1,694.7 1326.8,695.9 1328.5,694.7 1330.1,696.5 1331.8,694.8 1333.4,693.3 1335.1,694.9 1336.8,694.7 1338.4,693.8 1340.1,694.4 1341.8,693.1 1343.4,693.8 1345.1,696.0 1346.7,692.6 1348.4,695.7 1350.1,695.4 1351.7,694.7 1353.4,697.6 1355.1,696.7 1356.7,695.0 1358.4,696.2 1360.0,697.3 1361.7,693.9 1363.4,696.6 1365.0,696.0 1366.7,697.0 1368.3,699.6 1370.0,695.8 1371.7,696.3 1373.3,694.4 1375.0,695.5 1376.7,695.2 1378.3,687.8 1380.0,686.7 1381.6,679.8 1383.3,667.7 1385.0,665.1 1386.6,667.0 1388.3,666.9 1390.0,670.8 1391.6,676.0 1393.3,694.7 1394.9,702.4 1396.6,704.9 1398.3,703.8 1399.9,703.8 1401.6,702.0 1403.3,703.9 1404.9,706.5 1406.6,703.6 1408.2,704.3 1409.9,704.8 1411.6,703.3 1413.2,705.1 1414.9,705.5 1416.5,704.4 1418.2,702.2 1419.9,707.0 1421.5,704.9 1423.2,704.9 1424.9,704.6 1426.5,703.2 1428.2,700.3 1429.8,701.2 1431.5,700.1 1433.2,699.9 1434.8,699.4 1436.5,694.7 1438.2,700.1 1439.8,700.3 1441.5,703.3 1443.1,703.4 1444.8,707.4 1446.5,705.6 1448.1,708.0 1449.8,705.4 1451.5,707.3 1453.1,706.7 1454.8,707.9 1456.4,707.8 1458.1,707.7 1459.8,706.7 1461.4,708.5 1463.1,707.9 1464.7,705.9 1466.4,707.9 1468.1,705.7 1469.7,706.2 1471.4,705.4 1473.1,704.9 1474.7,705.6 1476.4,701.7 1478.0,707.0 1479.7,703.7 1481.4,709.0 1483.0,708.9 1484.7,706.0 1486.4,708.6 1488.0,707.7 1489.7,706.5 1491.3,710.0 1493.0,709.9" fill="none" stroke="#ff0000" stroke-width="4.6" stroke-linejoin="round" marker-start="url(#mSr)" marker-mid="url(#mSr)" marker-end="url(#mSr)"/>
<polyline points="80.3,643.7 82.0,645.9 83.6,644.1 85.3,643.7 86.9,645.8 88.6,642.8 90.3,644.6 91.9,644.0 93.6,641.7 95.3,639.2 96.9,637.0 98.6,632.0 100.2,624.6 101.9,610.8 103.6,605.5 105.2,595.3 106.9,591.5 108.6,592.2 110.2,596.6 111.9,604.4 113.5,611.8 115.2,616.6 116.9,628.4 118.5,633.1 120.2,639.1 121.9,642.9 123.5,652.6 125.2,654.8 126.8,658.5 128.5,657.4 130.2,661.4 131.8,661.6 133.5,660.3 135.1,663.8 136.8,659.5 138.5,662.3 140.1,662.1 141.8,662.2 143.5,660.3 145.1,660.9 146.8,662.8 148.4,663.1 150.1,661.5 151.8,661.2 153.4,660.7 155.1,663.3 156.8,661.1 158.4,660.4 160.1,658.4 161.7,658.5 163.4,659.3 165.1,657.9 166.7,660.1 168.4,660.1 170.0,659.0 171.7,659.6 173.4,659.9 175.0,657.4 176.7,660.7 178.4,655.6 180.0,662.1 181.7,657.1 183.3,659.1 185.0,658.4 186.7,659.3 188.3,657.5 190.0,659.2 191.7,656.0 193.3,659.2 195.0,657.6 196.6,658.4 198.3,659.2 200.0,655.9 201.6,656.6 203.3,656.3 205.0,657.0 206.6,657.3 208.3,657.9 209.9,657.1 211.6,656.4 213.3,657.3 214.9,657.9 216.6,657.7 218.2,659.3 219.9,655.3 221.6,656.5 223.2,654.1 224.9,655.0 226.6,656.8 228.2,657.6 229.9,655.0 231.5,656.3 233.2,655.7 234.9,656.3 236.5,655.9 238.2,654.9 239.9,652.4 241.5,653.5 243.2,656.2 244.8,655.5 246.5,658.6 248.2,655.7 249.8,656.9 251.5,653.9 253.1,653.6 254.8,655.9 256.5,658.0 258.1,656.2 259.8,655.2 261.5,656.2 263.1,656.5 264.8,656.2 266.4,655.6 268.1,654.1 269.8,654.0 271.4,654.8 273.1,655.2 274.8,653.5 276.4,657.5 278.1,656.0 279.7,654.3 281.4,656.0 283.1,658.2 284.7,655.0 286.4,654.5 288.0,654.8 289.7,650.6 291.4,650.9 293.0,649.8 294.7,651.6 296.4,647.8 298.0,650.3 299.7,648.8 301.3,648.8 303.0,648.2 304.7,651.2 306.3,648.1 308.0,647.8 309.7,650.1 311.3,649.0 313.0,650.8 314.6,650.4 316.3,650.9 318.0,651.4 319.6,649.3 321.3,650.9 323.0,658.8 324.6,656.7 326.3,661.3 327.9,661.2 329.6,664.8 331.3,666.6 332.9,671.1 334.6,670.8 336.2,670.5 337.9,671.9 339.6,675.6 341.2,677.6 342.9,680.4 344.6,676.0 346.2,660.0 347.9,535.0 349.5,211.1 351.2,302.0 352.9,578.0 354.5,668.0 356.2,679.6 357.9,679.5 359.5,678.2 361.2,677.8 362.8,681.1 364.5,678.6 366.2,677.4 367.8,679.1 369.5,680.5 371.2,680.1 372.8,676.5 374.5,677.4 376.1,678.8 377.8,679.7 379.5,679.8 381.1,677.9 382.8,681.0 384.4,680.5 386.1,677.7 387.8,678.6 389.4,679.9 391.1,678.0 392.8,680.3 394.4,680.5 396.1,679.8 397.7,681.3 399.4,683.0 401.1,679.5 402.7,681.1 404.4,679.8 406.1,682.6 407.7,682.2 409.4,680.4 411.0,679.6 412.7,681.5 414.4,680.4 416.0,678.7 417.7,679.0 419.3,680.1 421.0,683.3 422.7,681.7 424.3,682.0 426.0,681.3 427.7,681.8 429.3,681.9 431.0,678.2 432.6,680.5 434.3,680.4 436.0,680.2 437.6,680.0 439.3,675.8 441.0,679.5 442.6,677.2 444.3,680.4 445.9,678.2 447.6,678.5 449.3,678.7 450.9,675.9 452.6,678.4 454.2,676.8 455.9,679.9 457.6,677.8 459.2,676.9 460.9,680.3 462.6,678.1 464.2,677.2 465.9,678.4 467.5,678.3 469.2,678.9 470.9,677.1 472.5,680.0 474.2,679.0 475.9,680.8 477.5,679.3 479.2,677.2 480.8,680.0 482.5,678.2 484.2,678.7 485.8,675.1 487.5,676.8 489.2,680.5 490.8,680.1 492.5,676.1 494.1,678.9 495.8,678.7 497.5,679.8 499.1,676.4 500.8,675.3 502.4,678.0 504.1,676.5 505.8,676.4 507.4,675.8 509.1,678.7 510.8,675.5 512.4,678.0 514.1,677.5 515.7,675.7 517.4,678.0 519.1,678.4 520.7,677.1 522.4,676.3 524.1,677.7 525.7,675.6 527.4,677.3 529.0,678.8 530.7,674.8 532.4,674.1 534.0,677.7 535.7,675.4 537.4,676.0 539.0,676.9 540.7,675.8 542.3,676.8 544.0,675.3 545.7,675.9 547.3,676.5 549.0,677.4 550.6,676.1 552.3,677.1 554.0,677.5 555.6,677.4 557.3,676.5 559.0,678.5 560.6,675.6 562.3,678.1 563.9,678.0 565.6,677.9 567.3,675.9 568.9,678.0 570.6,677.5 572.3,675.4 573.9,676.7 575.6,675.4 577.2,678.0 578.9,679.6 580.6,679.6 582.2,677.6 583.9,678.2 585.5,680.0 587.2,680.7 588.9,682.6 590.5,681.3 592.2,683.6 593.9,681.6 595.5,684.0 597.2,680.8 598.8,682.4 600.5,682.5 602.2,677.5 603.8,670.9 605.5,658.9 607.2,650.0 608.8,645.6 610.5,650.0 612.1,657.7 613.8,672.0 615.5,676.7 617.1,684.5 618.8,684.9 620.5,682.1 622.1,682.2 623.8,685.1 625.4,684.9 627.1,682.3 628.8,682.5 630.4,681.0 632.1,684.2 633.7,683.9 635.4,683.7 637.1,686.8 638.7,683.5 640.4,683.5 642.1,683.9 643.7,683.2 645.4,684.9 647.0,683.0 648.7,683.3 650.4,686.1 652.0,682.0 653.7,681.1 655.4,682.8 657.0,681.6 658.7,681.3 660.3,681.8 662.0,681.9 663.7,677.9 665.3,679.0 667.0,675.8 668.6,680.9 670.3,679.1 672.0,682.3 673.6,684.9 675.3,685.2 677.0,684.0 678.6,680.8 680.3,686.3 681.9,683.2 683.6,685.0 685.3,683.3 686.9,683.8 688.6,686.5 690.3,682.1 691.9,682.8 693.6,684.2 695.2,686.2 696.9,681.3 698.6,686.6 700.2,684.3 701.9,685.8 703.6,688.5 705.2,685.6 706.9,686.4 708.5,686.8 710.2,684.4 711.9,685.1 713.5,684.6 715.2,685.2 716.8,684.4 718.5,684.1 720.2,684.0 721.8,685.9 723.5,683.0 725.2,685.0 726.8,686.8 728.5,682.9 730.1,682.4 731.8,685.8 733.5,683.7 735.1,683.8 736.8,685.7 738.5,685.2 740.1,683.7 741.8,684.2 743.4,682.5 745.1,683.7 746.8,684.4 748.4,685.2 750.1,685.2 751.7,686.8 753.4,684.2 755.1,685.7 756.7,684.7 758.4,682.9 760.1,684.7 761.7,684.8 763.4,685.2 765.0,685.0 766.7,684.5 768.4,683.0 770.0,683.8 771.7,684.7 773.4,685.2 775.0,685.3 776.7,684.7 778.3,685.0 780.0,686.1 781.7,684.3 783.3,683.2 785.0,681.9 786.6,683.9 788.3,684.7 790.0,683.2 791.6,685.8 793.3,682.4 795.0,683.1 796.6,683.4 798.3,681.7 799.9,684.8 801.6,682.2 803.3,681.6 804.9,680.6 806.6,684.4 808.3,684.8 809.9,681.5 811.6,680.9 813.2,682.2 814.9,682.8 816.6,682.0 818.2,683.3 819.9,681.1 821.6,685.5 823.2,683.0 824.9,683.9 826.5,681.9 828.2,683.7 829.9,684.7 831.5,681.3 833.2,682.5 834.8,683.7 836.5,682.9 838.2,681.2 839.8,681.7 841.5,683.2 843.2,682.8 844.8,681.4 846.5,682.8 848.1,679.2 849.8,682.4 851.5,683.6 853.1,683.5 854.8,681.5 856.5,682.3 858.1,682.2 859.8,681.7 861.4,680.6 863.1,679.6 864.8,680.7 866.4,679.7 868.1,678.3 869.8,682.9 871.4,679.0 873.1,680.0 874.7,679.9 876.4,678.3 878.1,681.1 879.7,678.1 881.4,682.9 883.0,678.3 884.7,679.1 886.4,679.9 888.0,679.9 889.7,680.4 891.4,682.2 893.0,682.9 894.7,684.6 896.3,680.1 898.0,683.5 899.7,683.3 901.3,681.8 903.0,680.2 904.7,685.2 906.3,683.2 908.0,679.1 909.6,683.9 911.3,682.5 913.0,682.3 914.6,683.2 916.3,681.4 917.9,682.2 919.6,683.8 921.3,680.8 922.9,680.5 924.6,680.1 926.3,683.5 927.9,680.9 929.6,681.9 931.2,681.7 932.9,683.3 934.6,682.9 936.2,681.3 937.9,684.4 939.6,683.0 941.2,682.9 942.9,681.8 944.5,681.9 946.2,682.0 947.9,682.4 949.5,683.0 951.2,683.0 952.9,682.0 954.5,682.2 956.2,683.4 957.8,683.8 959.5,683.1 961.2,680.4 962.8,677.9 964.5,679.0 966.1,678.1 967.8,677.1 969.5,676.7 971.1,674.3 972.8,676.4 974.5,675.1 976.1,683.0 977.8,682.7 979.4,683.6 981.1,685.8 982.8,685.7 984.4,686.1 986.1,689.2 987.8,687.3 989.4,685.4 991.1,686.5 992.7,684.3 994.4,681.8 996.1,678.3 997.7,678.7 999.4,679.6 1001.0,685.6 1002.7,690.2 1004.4,688.1 1006.0,690.1 1007.7,672.0 1009.4,632.7 1011.0,647.0 1012.7,689.5 1014.3,692.1 1016.0,692.4 1017.7,690.4 1019.3,688.3 1021.0,686.5 1022.7,689.0 1024.3,696.5 1026.0,698.1 1027.6,695.3 1029.3,696.3 1031.0,695.4 1032.6,698.3 1034.3,697.2 1036.0,695.5 1037.6,697.4 1039.3,696.9 1040.9,696.1 1042.6,697.1 1044.3,698.9 1045.9,696.3 1047.6,697.1 1049.2,695.6 1050.9,697.0 1052.6,699.6 1054.2,698.4 1055.9,696.6 1057.6,696.8 1059.2,699.4 1060.9,697.5 1062.5,696.9 1064.2,699.3 1065.9,697.1 1067.5,696.7 1069.2,698.3 1070.9,695.9 1072.5,697.1 1074.2,696.6 1075.8,697.9 1077.5,697.6 1079.2,700.3 1080.8,698.7 1082.5,697.8 1084.1,698.5 1085.8,697.4 1087.5,698.1 1089.1,698.6 1090.8,698.4 1092.5,699.5 1094.1,697.9 1095.8,695.8 1097.4,696.9 1099.1,694.6 1100.8,698.7 1102.4,692.9 1104.1,695.0 1105.8,695.8 1107.4,694.6 1109.1,696.2 1110.7,699.1 1112.4,696.6 1114.1,699.7 1115.7,698.1 1117.4,697.9 1119.0,701.2 1120.7,699.6 1122.4,699.1 1124.0,698.2 1125.7,698.9 1127.4,698.4 1129.0,701.3 1130.7,699.0 1132.3,697.7 1134.0,698.0 1135.7,699.3 1137.3,697.1 1139.0,697.6 1140.7,696.4 1142.3,695.4 1144.0,701.9 1145.6,698.4 1147.3,701.2 1149.0,699.5 1150.6,699.1 1152.3,697.2 1154.0,698.7 1155.6,699.0 1157.3,697.5 1158.9,699.7 1160.6,700.5 1162.3,699.4 1163.9,699.0 1165.6,696.3 1167.2,702.7 1168.9,699.8 1170.6,697.1 1172.2,697.1 1173.9,697.8 1175.6,697.3 1177.2,698.8 1178.9,697.5 1180.5,698.9 1182.2,698.1 1183.9,698.3 1185.5,697.1 1187.2,699.0 1188.9,699.0 1190.5,697.5 1192.2,696.2 1193.8,698.6 1195.5,695.9 1197.2,697.3 1198.8,699.0 1200.5,700.0 1202.2,697.5 1203.8,698.0 1205.5,699.0 1207.1,695.4 1208.8,695.2 1210.5,694.9 1212.1,695.1 1213.8,692.2 1215.4,693.4 1217.1,697.7 1218.8,699.2 1220.4,696.8 1222.1,697.8 1223.8,699.1 1225.4,697.4 1227.1,695.0 1228.7,698.0 1230.4,699.0 1232.1,695.9 1233.7,699.5 1235.4,697.2 1237.1,695.1 1238.7,698.0 1240.4,695.4 1242.0,699.5 1243.7,698.2 1245.4,700.0 1247.0,695.0 1248.7,697.5 1250.3,699.4 1252.0,699.0 1253.7,698.1 1255.3,697.7 1257.0,698.0 1258.7,698.5 1260.3,699.6 1262.0,694.5 1263.6,695.5 1265.3,696.1 1267.0,697.2 1268.6,697.4 1270.3,696.3 1272.0,696.7 1273.6,697.9 1275.3,698.4 1276.9,695.6 1278.6,696.3 1280.3,696.8 1281.9,700.2 1283.6,695.8 1285.2,697.1 1286.9,696.8 1288.6,696.1 1290.2,698.0 1291.9,696.6 1293.6,696.0 1295.2,696.8 1296.9,697.0 1298.5,695.7 1300.2,695.5 1301.9,698.1 1303.5,695.7 1305.2,697.8 1306.9,696.2 1308.5,695.2 1310.2,694.7 1311.8,693.9 1313.5,697.2 1315.2,697.1 1316.8,695.6 1318.5,694.6 1320.2,695.3 1321.8,696.2 1323.5,697.7 1325.1,695.0 1326.8,693.4 1328.5,696.1 1330.1,695.2 1331.8,694.5 1333.4,693.0 1335.1,696.5 1336.8,697.9 1338.4,694.6 1340.1,694.1 1341.8,695.6 1343.4,696.1 1345.1,697.4 1346.7,697.0 1348.4,694.6 1350.1,697.5 1351.7,697.7 1353.4,696.7 1355.1,698.1 1356.7,695.9 1358.4,697.5 1360.0,696.2 1361.7,698.3 1363.4,699.5 1365.0,695.8 1366.7,698.8 1368.3,700.0 1370.0,699.5 1371.7,701.6 1373.3,698.6 1375.0,700.9 1376.7,697.1 1378.3,692.3 1380.0,687.2 1381.6,679.9 1383.3,677.0 1385.0,673.8 1386.6,673.5 1388.3,671.9 1390.0,672.3 1391.6,678.1 1393.3,693.1 1394.9,707.1 1396.6,704.3 1398.3,705.7 1399.9,706.4 1401.6,706.7 1403.3,704.1 1404.9,704.3 1406.6,704.4 1408.2,707.3 1409.9,704.5 1411.6,704.8 1413.2,707.0 1414.9,707.4 1416.5,708.8 1418.2,706.1 1419.9,707.5 1421.5,703.6 1423.2,707.0 1424.9,707.4 1426.5,706.7 1428.2,703.2 1429.8,704.5 1431.5,703.3 1433.2,699.6 1434.8,698.3 1436.5,696.3 1438.2,698.4 1439.8,701.1 1441.5,701.6 1443.1,703.8 1444.8,707.4 1446.5,707.1 1448.1,709.2 1449.8,707.6 1451.5,706.6 1453.1,705.5 1454.8,707.5 1456.4,706.6 1458.1,705.6 1459.8,710.6 1461.4,705.0 1463.1,710.0 1464.7,711.0 1466.4,707.5 1468.1,706.4 1469.7,707.4 1471.4,704.6 1473.1,705.6 1474.7,705.9 1476.4,702.7 1478.0,707.6 1479.7,706.5 1481.4,707.8 1483.0,710.0 1484.7,706.2 1486.4,706.4 1488.0,708.6 1489.7,708.7 1491.3,707.8 1493.0,708.0" fill="none" stroke="#0000ff" stroke-width="4.6" stroke-linejoin="round" marker-start="url(#mSb)" marker-mid="url(#mSb)" marker-end="url(#mSb)"/>
</g>
<g id="panel-b-data">
<polyline points="80.7,1572.1 86.3,1577.7 91.9,1584.1 97.5,1558.7 103.1,1556.6 108.6,1556.7 114.2,1554.8 119.8,1563.3 125.4,1573.7 131.0,1574.8 136.6,1567.6 142.2,1559.6 147.8,1554.3 153.4,1550.6 158.9,1547.5 164.5,1544.8 170.1,1535.5 175.7,1533.3 181.3,1532.2 186.9,1535.0 192.5,1535.4 198.1,1521.1 203.7,1518.5 209.2,1517.4 214.8,1512.7 220.4,1515.6 226.0,1516.1 231.6,1517.3 237.2,1531.0 242.8,1480.7 248.4,1474.0 254.0,1463.4 259.5,1453.8 265.1,1462.0 270.7,1451.8 276.3,1438.8 281.9,1429.5 287.5,1418.1 293.1,1416.7 298.7,1409.9 304.3,1376.9 309.8,1363.8 315.4,1360.3 321.0,1357.2 326.6,1347.7 332.2,1339.8 337.8,1326.9 343.4,1313.7 349.0,1302.7 354.6,1290.8 360.2,1266.3 365.7,1246.8 371.3,1235.0 376.9,1214.6 382.5,1191.3 388.1,1164.6 393.7,1137.8 399.3,1100.7 404.9,1084.9 410.5,1069.3 416.0,1052.8 421.6,1036.2 427.2,1019.7 432.8,1000.3 438.4,981.0 444.0,974.5 449.6,978.4 455.2,1018.1 460.8,1069.5 466.3,1097.7 471.9,1176.2 477.5,1209.2 483.1,1240.4 488.7,1259.9 494.3,1273.9 499.9,1283.7 505.5,1275.6 511.1,1267.5 516.6,1259.9 522.2,1252.3 527.8,1245.8 533.4,1239.3 539.0,1221.3 544.6,1203.2 550.2,1167.5 555.8,1137.7 561.4,1094.6 566.9,1087.7 572.5,1048.4 578.1,991.8 583.7,980.4 589.3,969.0 594.9,955.0 600.5,926.8 606.1,913.8 611.7,922.5 617.2,985.3 622.8,1054.6 628.4,1145.9 634.0,1236.1 639.6,1316.5 645.2,1396.9 650.8,1446.8 656.4,1505.2 662.0,1550.7 667.5,1559.4 673.1,1568.0 678.7,1572.9 684.3,1577.8 689.9,1578.5 695.5,1579.2 701.1,1579.9 706.7,1580.1 712.3,1580.3 717.8,1580.4 723.4,1580.6 729.0,1580.6 734.6,1580.6 740.2,1580.6 745.8,1580.6 751.4,1580.6" fill="none" stroke="#000000" stroke-width="3.5" stroke-linejoin="round" marker-start="url(#mLk)" marker-mid="url(#mLk)" marker-end="url(#mLk)"/>
<polyline points="80.7,1578.8 86.3,1575.4 91.9,1569.6 97.5,1571.1 103.1,1569.0 108.6,1566.1 114.2,1568.1 119.8,1568.5 125.4,1564.4 131.0,1560.1 136.6,1558.9 142.2,1566.8 147.8,1562.9 153.4,1560.0 158.9,1552.9 164.5,1553.7 170.1,1558.5 175.7,1552.7 181.3,1546.1 186.9,1541.5 192.5,1537.0 198.1,1530.6 203.7,1528.6 209.2,1521.1 214.8,1520.4 220.4,1516.9 226.0,1513.0 231.6,1500.6 237.2,1495.6 242.8,1491.8 248.4,1489.8 254.0,1478.2 259.5,1482.0 265.1,1471.2 270.7,1464.1 276.3,1455.3 281.9,1444.9 287.5,1430.0 293.1,1428.8 298.7,1424.7 304.3,1411.6 309.8,1401.2 315.4,1392.0 321.0,1386.2 326.6,1374.3 332.2,1366.2 337.8,1359.4 343.4,1346.2 349.0,1332.6 354.6,1321.2 360.2,1294.6 365.7,1281.2 371.3,1259.4 376.9,1236.3 382.5,1211.1 388.1,1220.3 393.7,1189.9 399.3,1158.5 404.9,1133.6 410.5,1084.9 416.0,1056.8 421.6,1017.8 427.2,996.1 432.8,979.9 438.4,973.4 444.0,1000.4 449.6,1018.9 455.2,1061.1 460.8,1125.0 466.3,1182.4 471.9,1227.8 477.5,1298.9 483.1,1287.8 488.7,1309.7 494.3,1322.7 499.9,1320.5 505.5,1311.8 511.1,1303.2 516.6,1285.4 522.2,1279.4 527.8,1260.1 533.4,1243.4 539.0,1226.8 544.6,1209.2 550.2,1191.0 555.8,1160.7 561.4,1128.2 566.9,1101.1 572.5,1069.7 578.1,1030.8 583.7,1003.7 589.3,959.3 594.9,938.7 600.5,911.7 606.1,930.1 611.7,952.8 617.2,1014.5 622.8,1104.4 628.4,1195.4 634.0,1295.2 639.6,1374.2 645.2,1435.9 650.8,1487.9 656.4,1520.4 662.0,1535.5 667.5,1548.5 673.1,1538.1 678.7,1559.4 684.3,1555.7 689.9,1568.0 695.5,1558.5 701.1,1572.4 706.7,1563.3 712.3,1575.6 717.8,1568.5 723.4,1578.9 729.0,1570.2 734.6,1582.1 740.2,1575.0 745.8,1573.9 751.4,1579.9" fill="none" stroke="#ff0000" stroke-width="3.5" stroke-linejoin="round" marker-start="url(#mLr)" marker-mid="url(#mLr)" marker-end="url(#mLr)"/>
<polyline points="80.7,1572.3 86.3,1580.5 91.9,1576.3 97.5,1570.1 103.1,1569.9 108.6,1567.6 114.2,1565.8 119.8,1567.3 125.4,1570.1 131.0,1564.2 136.6,1557.8 142.2,1555.0 147.8,1569.1 153.4,1565.0 158.9,1558.0 164.5,1552.4 170.1,1554.4 175.7,1555.3 181.3,1554.0 186.9,1547.2 192.5,1540.6 198.1,1535.3 203.7,1530.8 209.2,1525.7 214.8,1520.6 220.4,1517.4 226.0,1516.3 231.6,1512.6 237.2,1494.6 242.8,1494.1 248.4,1494.2 254.0,1488.6 259.5,1477.7 265.1,1481.7 270.7,1467.4 276.3,1459.0 281.9,1454.3 287.5,1441.2 293.1,1428.6 298.7,1426.6 304.3,1424.2 309.8,1408.5 315.4,1399.8 321.0,1391.0 326.6,1379.1 332.2,1372.7 337.8,1366.1 343.4,1355.8 349.0,1344.1 354.6,1329.1 360.2,1318.9 365.7,1289.0 371.3,1279.4 376.9,1254.5 382.5,1231.7 388.1,1206.0 393.7,1181.1 399.3,1156.1 404.9,1126.4 410.5,1109.6 416.0,1071.7 421.6,1039.0 427.2,1008.9 432.8,990.1 438.4,977.7 444.0,965.8 449.6,991.8 455.2,1040.3 460.8,1095.3 466.3,1154.5 471.9,1203.0 477.5,1252.9 483.1,1269.6 488.7,1292.4 494.3,1316.2 499.9,1308.6 505.5,1302.1 511.1,1297.2 516.6,1292.4 522.2,1283.7 527.8,1278.3 533.4,1255.5 539.0,1240.4 544.6,1220.0 550.2,1206.5 555.8,1175.1 561.4,1142.6 566.9,1125.8 572.5,1091.2 578.1,1057.1 583.7,1026.0 589.3,984.9 594.9,959.7 600.5,923.6 606.1,911.7 611.7,918.2 617.2,976.6 622.8,1052.2 628.4,1156.1 634.0,1245.8 639.6,1333.1 645.2,1406.7 650.8,1444.6 656.4,1478.8 662.0,1504.1 667.5,1515.0 673.1,1526.4 678.7,1541.0 684.3,1549.6 689.9,1557.2 695.5,1555.0 701.1,1559.4 706.7,1561.5 712.3,1563.7 717.8,1565.9 723.4,1569.1 729.0,1565.9 734.6,1571.3 740.2,1572.4 745.8,1575.6 751.4,1573.4" fill="none" stroke="#0000ff" stroke-width="3.5" stroke-linejoin="round" marker-start="url(#mLb)" marker-mid="url(#mLb)" marker-end="url(#mLb)"/>
</g>
<g id="panel-c-data">
<polyline points="818.2,1579.9 823.8,1579.9 829.4,1579.9 835.0,1579.9 840.6,1579.9 846.1,1579.9 851.7,1579.9 857.3,1579.9 862.9,1579.9 868.5,1553.9 874.1,1559.4 879.7,1560.4 885.3,1559.4 890.8,1561.5 896.4,1563.7 902.0,1565.9 907.6,1563.7 913.2,1561.5 918.8,1558.3 924.4,1557.2 930.0,1556.1 935.5,1519.3 941.1,1526.9 946.7,1518.2 952.3,1513.9 957.9,1507.4 963.5,1502.0 969.1,1471.7 974.7,1458.7 980.3,1460.8 985.8,1433.8 991.4,1391.5 997.0,1387.2 1002.6,1347.1 1008.2,1323.5 1013.8,1264.6 1019.4,1229.8 1025.0,1217.9 1030.5,1172.9 1036.1,1112.3 1041.7,1080.4 1047.3,1047.4 1052.9,1020.3 1058.5,965.1 1064.1,947.4 1069.7,934.4 1075.2,940.9 1080.8,911.7 1086.4,925.7 1092.0,946.3 1097.6,927.9 1103.2,934.4 1108.8,950.6 1114.4,1008.7 1120.0,1019.9 1125.5,1042.2 1131.1,1063.2 1136.7,1068.7 1142.3,1077.3 1147.9,1071.5 1153.5,1076.2 1159.1,1062.2 1164.7,1039.4 1170.2,1014.5 1175.8,1006.9 1181.4,1000.4 1187.0,1028.6 1192.6,991.4 1198.2,998.3 1203.8,1002.6 1209.4,998.3 1214.9,1006.9 1220.5,1011.3 1226.1,1061.1 1231.7,1052.4 1237.3,1076.0 1242.9,1133.1 1248.5,1139.2 1254.1,1187.2 1259.7,1200.4 1265.2,1239.3 1270.8,1256.0 1276.4,1274.4 1282.0,1327.3 1287.6,1356.8 1293.2,1356.8 1298.8,1380.1 1304.4,1381.7 1309.9,1394.7 1315.5,1422.9 1321.1,1415.4 1326.7,1441.3 1332.3,1470.6 1337.9,1456.5 1343.5,1480.3 1349.1,1496.1 1354.6,1507.4 1360.2,1517.1 1365.8,1529.0 1371.4,1532.3 1377.0,1538.8 1382.6,1543.8 1388.2,1557.2 1393.8,1574.5 1399.4,1570.2 1404.9,1569.1 1410.5,1570.2 1416.1,1571.3 1421.7,1570.2 1427.3,1565.9 1432.9,1556.1 1438.5,1561.5 1444.1,1578.9 1449.6,1585.4 1455.2,1579.9 1460.8,1579.9 1466.4,1579.9 1472.0,1579.9 1477.6,1579.9 1483.2,1579.9 1488.8,1579.9" fill="none" stroke="#000000" stroke-width="3.5" stroke-linejoin="round" marker-start="url(#mLk)" marker-mid="url(#mLk)" marker-end="url(#mLk)"/>
<polyline points="818.2,1570.2 823.8,1570.2 829.4,1570.2 835.0,1570.2 840.6,1570.2 846.1,1570.2 851.7,1570.2 857.3,1570.2 862.9,1586.4 868.5,1565.9 874.1,1557.2 879.7,1548.5 885.3,1563.7 890.8,1546.4 896.4,1559.4 902.0,1556.1 907.6,1534.5 913.2,1544.2 918.8,1546.4 924.4,1539.9 930.0,1524.7 935.5,1530.1 941.1,1537.7 946.7,1549.6 952.3,1522.5 957.9,1518.2 963.5,1523.6 969.1,1504.1 974.7,1508.5 980.3,1470.6 985.8,1480.3 991.4,1473.8 997.0,1448.9 1002.6,1454.3 1008.2,1438.1 1013.8,1416.4 1019.4,1388.3 1025.0,1346.1 1030.5,1321.7 1036.1,1289.4 1041.7,1256.6 1047.3,1246.9 1052.9,1232.5 1058.5,1189.7 1064.1,1158.3 1069.7,1115.5 1075.2,1150.7 1080.8,1139.9 1086.4,1132.3 1092.0,1142.6 1097.6,1156.4 1103.2,1181.9 1108.8,1217.1 1114.4,1232.5 1120.0,1244.2 1125.5,1210.3 1131.1,1203.8 1136.7,1233.9 1142.3,1195.1 1147.9,1156.9 1153.5,1166.4 1159.1,1173.5 1164.7,1193.3 1170.2,1170.2 1175.8,1102.8 1181.4,1104.2 1187.0,1105.3 1192.6,1083.4 1198.2,1052.2 1203.8,1026.4 1209.4,1017.8 1214.9,1021.0 1220.5,996.1 1226.1,958.2 1231.7,943.1 1237.3,933.3 1242.9,925.7 1248.5,963.6 1254.1,932.2 1259.7,942.0 1265.2,948.5 1270.8,979.2 1276.4,984.2 1282.0,1022.1 1287.6,1063.8 1293.2,1106.0 1298.8,1132.3 1304.4,1173.5 1309.9,1220.3 1315.5,1231.1 1321.1,1244.1 1326.7,1287.4 1332.3,1270.1 1337.9,1287.4 1343.5,1306.9 1349.1,1369.2 1354.6,1426.2 1360.2,1456.5 1365.8,1458.7 1371.4,1496.6 1377.0,1520.4 1382.6,1525.8 1388.2,1529.0 1393.8,1539.9 1399.4,1521.5 1404.9,1546.4 1410.5,1565.9 1416.1,1572.4 1421.7,1581.0 1427.3,1572.4 1432.9,1570.2 1438.5,1571.3 1444.1,1571.3 1449.6,1571.3 1455.2,1571.3 1460.8,1571.3 1466.4,1571.3 1472.0,1571.3 1477.6,1571.3 1483.2,1571.3 1488.8,1571.3" fill="none" stroke="#ff0000" stroke-width="3.5" stroke-linejoin="round" marker-start="url(#mLr)" marker-mid="url(#mLr)" marker-end="url(#mLr)"/>
<polyline points="818.2,1579.9 823.8,1579.9 829.4,1579.9 835.0,1579.9 840.6,1579.9 846.1,1579.9 851.7,1579.9 857.3,1579.9 862.9,1579.9 868.5,1579.9 874.1,1579.9 879.7,1579.9 885.3,1579.9 890.8,1579.9 896.4,1579.9 902.0,1579.9 907.6,1579.9 913.2,1579.9 918.8,1579.9 924.4,1579.9 930.0,1579.9 935.5,1579.9 941.1,1579.9 946.7,1579.9 952.3,1579.9 957.9,1548.5 963.5,1550.7 969.1,1584.3 974.7,1557.2 980.3,1556.1 985.8,1549.6 991.4,1532.3 997.0,1541.0 1002.6,1531.2 1008.2,1484.6 1013.8,1480.3 1019.4,1438.1 1025.0,1416.4 1030.5,1390.4 1036.1,1360.1 1041.7,1310.2 1047.3,1270.7 1052.9,1265.3 1058.5,1246.4 1064.1,1201.1 1069.7,1204.3 1075.2,1176.7 1080.8,1112.8 1086.4,1115.0 1092.0,1109.6 1097.6,1106.3 1103.2,1095.5 1108.8,1116.1 1114.4,1157.6 1120.0,1173.5 1125.5,1186.5 1131.1,1160.7 1136.7,1205.4 1142.3,1213.0 1147.9,1191.0 1153.5,1189.7 1159.1,1174.0 1164.7,1178.3 1170.2,1138.4 1175.8,1137.7 1181.4,1108.5 1187.0,1075.2 1192.6,1012.7 1198.2,1044.3 1203.8,993.9 1209.4,993.5 1214.9,972.3 1220.5,935.5 1226.1,929.0 1231.7,919.2 1237.3,938.7 1242.9,911.7 1248.5,913.8 1254.1,957.1 1259.7,960.4 1265.2,991.8 1270.8,993.9 1276.4,1048.1 1282.0,1051.3 1287.6,1076.8 1293.2,1127.1 1298.8,1176.9 1304.4,1215.9 1309.9,1232.2 1315.5,1217.0 1321.1,1240.2 1326.7,1301.5 1332.3,1303.6 1337.9,1291.7 1343.5,1311.2 1349.1,1346.2 1354.6,1399.6 1360.2,1424.7 1365.8,1479.2 1371.4,1493.3 1377.0,1515.0 1382.6,1512.8 1388.2,1513.9 1393.8,1537.7 1399.4,1547.5 1404.9,1552.9 1410.5,1561.5 1416.1,1555.0 1421.7,1559.4 1427.3,1526.9 1432.9,1573.4 1438.5,1569.1 1444.1,1578.9 1449.6,1578.9 1455.2,1578.9 1460.8,1578.9 1466.4,1578.9 1472.0,1578.9 1477.6,1578.9 1483.2,1578.9 1488.8,1578.9" fill="none" stroke="#0000ff" stroke-width="3.5" stroke-linejoin="round" marker-start="url(#mLb)" marker-mid="url(#mLb)" marker-end="url(#mLb)"/>
</g>
<g id="table" stroke="#000" stroke-width="3.8" fill="none">
<rect x="513.8" y="85.4" width="901.7" height="291.6" fill="#fff"/>
<line x1="513.8" y1="158.3" x2="1415.5" y2="158.3"/>
<line x1="513.8" y1="231.3" x2="1415.5" y2="231.3"/>
<line x1="513.8" y1="304.2" x2="1415.5" y2="304.2"/>
<line x1="1117.8" y1="85.4" x2="1117.8" y2="377.0"/>
</g>
<text x="816.00" y="134.30" font-size="45" text-anchor="middle" >Sample ID</text>
<text x="1264.50" y="136.80" font-size="45" text-anchor="middle" >F/Ir</text>
<text x="636.50" y="210.40" font-size="45" text-anchor="start" >Pristine MEA</text>
<text x="638.50" y="279.50" font-size="45" text-anchor="start" >Aged MEA_Uncoated</text>
<text x="638.50" y="352.20" font-size="45" text-anchor="start" >Aged MEA_Coated</text>
<text x="1265.50" y="210.30" font-size="45" text-anchor="middle" >18</text>
<text x="1265.50" y="283.40" font-size="45" text-anchor="middle" >11</text>
<text x="1265.50" y="356.80" font-size="45" text-anchor="middle" >12</text>
<line x1="539" y1="194.5" x2="609.5" y2="194.5" stroke="#000" stroke-width="3.4"/>
<circle cx="555" cy="194.5" r="7.2" fill="#000"/><circle cx="594" cy="194.5" r="7.2" fill="#000"/>
<line x1="539" y1="268.5" x2="609.5" y2="268.5" stroke="#ff0000" stroke-width="3.4"/>
<circle cx="555" cy="268.5" r="7.2" fill="#ff0000"/><circle cx="594" cy="268.5" r="7.2" fill="#ff0000"/>
<line x1="539" y1="341.5" x2="609.5" y2="341.5" stroke="#0000ff" stroke-width="3.4"/>
<circle cx="555" cy="341.5" r="7.2" fill="#0000ff"/><circle cx="594" cy="341.5" r="7.2" fill="#0000ff"/>
<text x="109.80" y="49.00" font-size="60" text-anchor="start" >(a)</text>
<text x="109.80" y="957.00" font-size="60" text-anchor="start" >(b)</text>
<text x="846.70" y="957.00" font-size="60" text-anchor="start" >(c)</text>
<text x="389.50" y="52.50" font-size="45" text-anchor="start" >F 1s</text>
<text x="98.00" y="530.00" font-size="45" text-anchor="start" >F KLL</text>
<text x="562.50" y="612.50" font-size="45" text-anchor="start" >O 1s</text>
<text x="959.50" y="568.50" font-size="45" text-anchor="start" >C 1s</text>
<text x="1160.50" y="668.50" font-size="45" text-anchor="start" >S 2p</text>
<text x="1345.50" y="635.00" font-size="45" text-anchor="start" >Ir 4f</text>
<text x="1493.00" y="792.50" font-size="44" text-anchor="middle" >0</text>
<text x="1326.80" y="792.50" font-size="44" text-anchor="middle" >100</text>
<text x="1160.60" y="792.50" font-size="44" text-anchor="middle" >200</text>
<text x="994.40" y="792.50" font-size="44" text-anchor="middle" >300</text>
<text x="828.20" y="792.50" font-size="44" text-anchor="middle" >400</text>
<text x="662.00" y="792.50" font-size="44" text-anchor="middle" >500</text>
<text x="495.80" y="792.50" font-size="44" text-anchor="middle" >600</text>
<text x="329.60" y="792.50" font-size="44" text-anchor="middle" >700</text>
<text x="163.40" y="792.50" font-size="44" text-anchor="middle" >800</text>
<text x="695.49" y="1663.30" font-size="44" text-anchor="middle" >60</text>
<text x="583.71" y="1663.30" font-size="44" text-anchor="middle" >62</text>
<text x="471.93" y="1663.30" font-size="44" text-anchor="middle" >64</text>
<text x="360.15" y="1663.30" font-size="44" text-anchor="middle" >66</text>
<text x="248.37" y="1663.30" font-size="44" text-anchor="middle" >68</text>
<text x="136.59" y="1663.30" font-size="44" text-anchor="middle" >70</text>
<text x="1432.88" y="1663.30" font-size="44" text-anchor="middle" >528</text>
<text x="1321.12" y="1663.30" font-size="44" text-anchor="middle" >530</text>
<text x="1209.36" y="1663.30" font-size="44" text-anchor="middle" >532</text>
<text x="1097.60" y="1663.30" font-size="44" text-anchor="middle" >534</text>
<text x="985.84" y="1663.30" font-size="44" text-anchor="middle" >536</text>
<text x="874.08" y="1663.30" font-size="44" text-anchor="middle" >538</text>
<text x="786.70" y="855.50" font-size="48.3" text-anchor="middle" >Binding Energy (eV)</text>
<text x="416.30" y="1726.80" font-size="48.3" text-anchor="middle" >Binding Energy (eV)</text>
<text x="1154.00" y="1726.80" font-size="48.3" text-anchor="middle" >Binding Energy (eV)</text>
<text transform="translate(37.6,359) rotate(-90)" font-size="48.3" text-anchor="middle">Intensity (a.u.)</text>
<text transform="translate(37.6,1249) rotate(-90)" font-size="48.3" text-anchor="middle">Intensity (a.u.)</text>
<text transform="translate(1531.2,1248.4) rotate(90)" font-size="48.3" text-anchor="middle">Intensity (a.u.)</text>
</g>
</svg>
</body>
</html>
